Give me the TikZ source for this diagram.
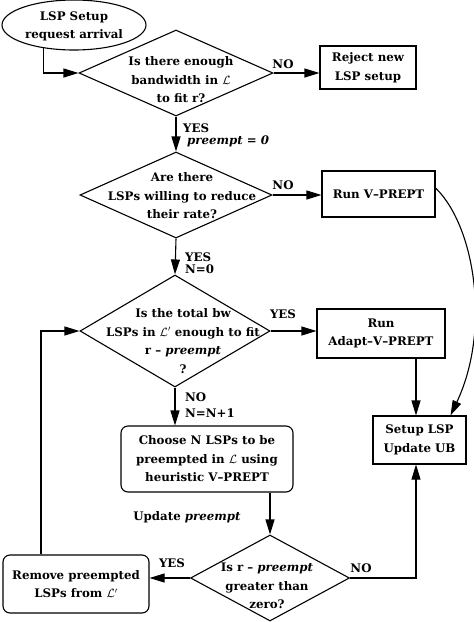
\documentclass[tikz,border=0pt]{standalone}
\usepackage{fontspec}
\setmainfont{DejaVu Serif}
\usetikzlibrary{shapes.geometric,arrows.meta,calc}
\newcommand\fnt{\fontsize{11.8}{18.5}\selectfont\bfseries}
\begin{document}
\begin{tikzpicture}[x=1pt,y=-1pt,
  lw/.style={line width=1.1pt},
  box/.style={draw,lw,inner sep=0pt,align=center,font=\fnt},
  rbox/.style={box,rounded corners=7pt},
  dia/.style={diamond,draw,lw,inner sep=0pt},
  ell/.style={ellipse,draw,lw,inner sep=0pt},
  txt/.style={align=center,inner sep=0pt,font=\fnt},
  lbl/.style={inner sep=0pt,font=\fnt},
  arr/.style={lw,-{Triangle[length=15pt,width=9pt]}}]
\useasboundingbox (0,0) rectangle (474,622);
% shapes
\node[ell,minimum width=144pt,minimum height=50pt] (st) at (74,25) {};
\node[txt] (stt) at (74,26.5) {LSP Setup\\request arrival};
\node[dia,minimum width=194pt,minimum height=86pt] (d1) at (176,73) {};
\node[txt] (d1t) at (181,80) {Is there enough\\bandwidth in $\mathcal{L}$\\to fit r?};
\node[box,minimum width=96pt,minimum height=43pt] (rej) at (368,67.5) {Reject new\\LSP setup};
\node[dia,minimum width=192pt,minimum height=86pt] (d2) at (176,195) {};
\node[txt] (d2t) at (182,196) {Are there\\LSPs willing to reduce\\their rate?};
\node[box,minimum width=113pt,minimum height=46pt] (vp) at (378.5,194) {Run V--PREPT};
\node[dia,minimum width=190pt,minimum height=112pt] (d3) at (175,331) {};
\node[txt] (d3t) at (183,341) {Is the total bw\\LSPs in $\mathcal{L}'$ enough to fit\\r -- \textit{preempt}\\?};
\node[box,minimum width=128pt,minimum height=49pt] (ad) at (381,333.5) {Run\\Adapt--V--PREPT};
\node[box,minimum width=93pt,minimum height=48pt] (su) at (419.5,440) {Setup LSP\\Update UB};
\node[rbox,minimum width=172pt,minimum height=66pt] (ch) at (207,459) {Choose N LSPs to be\\preempted in $\mathcal{L}$ using\\heuristic V--PREPT};
\node[dia,minimum width=159pt,minimum height=86pt] (d4) at (270,578) {};
\node[txt] (d4t) at (267,586) {Is r -- \textit{preempt}\\greater than\\zero?};
\node[rbox,minimum width=146pt,minimum height=58pt] (rm) at (76,584) {Remove preempted\\LSPs from $\mathcal{L}'$};
% labels
\node[lbl] (no1) at (283,64) {NO};
\node[lbl,anchor=west] (yes1) at (183,127.7) {YES};
\node[lbl,anchor=west] (pre0) at (187,141) {\textit{preempt = 0}};
\node[lbl] (no2) at (283,185) {NO};
\node[lbl,anchor=west] (yes2) at (185,257) {YES};
\node[lbl,anchor=west] (n0) at (185,269.5) {N=0};
\node[lbl] (yes3) at (283,314) {YES};
\node[lbl,anchor=west] (no3) at (185,397) {NO};
\node[lbl,anchor=west] (nn) at (185,413.5) {N=N+1};
\node[lbl] (upd) at (187,517) {Update \textit{preempt}};
\node[lbl] (yes4) at (172,563) {YES};
\node[lbl] (no4) at (361,568) {NO};
% helper coordinates
\coordinate (cx) at (416,0);
\coordinate (lx) at (41,0);
% connectors
\draw[arr] (st.217) |- (d1.west);
\draw[arr] (d1.east) -- (d1.east -| rej.west);
\draw[arr] (d1.south) -- (d2.north);
\draw[arr] (d2.east) -- (d2.east -| vp.west);
\draw[arr] (d2.south) -- (d3.north);
\draw[arr] (d3.east) -- (d3.east -| ad.west);
\draw[arr] (d3.south) -- (d3.south |- ch.north);
\draw[arr] (d4.north |- ch.south) -- (d4.north);
\draw[arr] (d4.west) -- (d4.west -| rm.east);
\draw[arr] (d4.east) -| (cx |- su.south);
\draw[arr] (cx |- ad.south) -- (cx |- su.north);
\draw[arr] ([yshift=6pt]vp.east) .. controls (475,226) and (491,330) .. ([xshift=31pt]su.north);
\draw[arr] (lx |- rm.north) |- (d3.west);
\end{tikzpicture}
\end{document}
